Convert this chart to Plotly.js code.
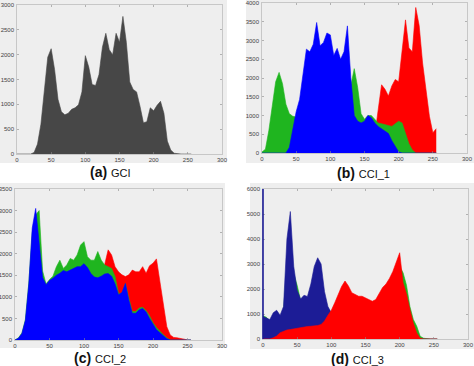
<!DOCTYPE html>
<html>
<head>
<meta charset="utf-8">
<script src="https://cdn.plot.ly/plotly-3.0.1.min.js"></script>
<style>html,body{margin:0;padding:0;background:#fff;}#chart{width:474px;height:366px;}</style>
</head>
<body>
<div id="chart"></div>
<script>
// intensity levels (bin centres)
var levels = [0,5,10,15,20,25,30,35,40,45,50,55,60,65,70,75,80,85,90,95,100,105,110,115,120,125,130,135,140,145,150,155,160,165,170,175,180,185,190,195,200,205,210,215,220,225,230,235,240,245,250,255];

// (a) GCI
var gciGray = [0,0,0,0,0,30,200,600,1300,1950,2120,1700,1100,850,790,820,900,930,990,1250,1980,1750,1400,1380,1600,2150,2430,2100,2000,2430,2250,2770,2250,1450,1300,1250,960,630,650,930,870,980,1060,820,260,80,15,0,0,0,0,0];

// (b) CCI_1
var cci1Red   = [0,0,0,0,0,0,0,0,0,0,0,0,0,0,0,0,0,0,0,0,0,0,0,0,0,0,0,0,0,0,0,0,150,450,1150,1820,1700,1520,1790,1960,1900,2680,3550,2800,2700,3880,3400,2400,1610,980,540,650];
var cci1Green = [30,100,600,1250,1900,2150,1850,1300,1050,980,950,940,950,1000,1000,1000,1000,1000,1000,1000,1000,1000,1000,1000,1000,1100,1800,2250,1750,1050,900,1000,1000,900,800,780,760,730,710,780,850,800,540,250,80,0,0,0,0,0,0,0];
var cci1Blue  = [0,0,0,0,0,0,0,0,150,600,1100,1430,2050,2770,2700,2900,3480,2860,2950,3200,3150,2600,2790,2500,2700,3390,2000,1000,850,800,850,1000,940,800,710,650,600,520,330,180,30,0,0,0,0,0,0,0,0,0,0,0];

// (c) CCI_2
var cci2Red   = [0,20,100,300,800,1500,1800,1500,1200,1150,1200,1250,1300,1300,1350,1350,1400,1400,1400,1400,1400,1400,1400,1400,1400,1500,1750,2090,1970,1700,1580,1510,1470,1510,1620,1580,1580,1700,1545,1720,1780,1880,1390,850,310,115,60,50,40,20,0,0];
var cci2Green = [0,50,160,470,1320,2500,2900,3000,1600,1300,1400,1480,1700,1850,1660,1740,1890,1850,1970,2200,2280,1930,1850,1850,2050,1850,1740,1700,1660,1470,1080,1080,1310,970,660,660,740,760,680,560,400,290,200,120,50,0,0,0,0,0,0,0];
var cci2Blue  = [0,40,150,450,1300,2600,3050,2200,1450,1280,1380,1430,1500,1545,1610,1580,1620,1660,1700,1700,1770,1680,1540,1460,1440,1480,1530,1540,1480,1300,1050,1100,1310,920,620,620,700,730,650,500,360,240,170,90,30,0,0,0,0,0,0,0];

// (d) CCI_3
var cci3Green = [930,870,700,900,1000,850,1100,3000,3800,2600,2150,1550,1500,1500,1800,2300,2600,2400,1500,1100,900,800,900,1100,1400,1500,1450,1400,1400,1400,1400,1350,1300,1400,1600,1800,2000,2200,2400,2700,2900,2650,2150,1300,780,510,110,30,0,0,0,0];
var cci3Blue  = [900,850,780,1050,1150,950,1300,4000,5100,2900,1950,1600,1750,1700,2200,2900,3250,3000,1900,1300,1050,640,300,200,100,0,0,0,0,0,0,0,0,0,0,0,0,0,0,0,0,0,0,0,0,0,0,0,0,0,0,0];
var cci3Red   = [0,0,0,50,120,250,320,360,380,410,440,460,480,500,510,520,540,580,720,950,1150,1450,1800,2100,2320,2120,1850,1780,1710,1710,1650,1570,1510,1580,1800,2060,2200,2420,2700,3100,3450,2250,1800,1180,640,240,30,0,0,0,0,0];

var xTicks = [0,50,100,150,200,250,300];
var yTicksA = [0,500,1000,1500,2000,2500,3000];
var yTicksB = [0,500,1000,1500,2000,2500,3000,3500,4000];
var yTicksC = [0,500,1000,1500,2000,2500,3000,3500];
var yTicksD = [0,1000,2000,3000,4000,5000,6000];

var captions = [
  {label: '(a)', name: 'GCI'},
  {label: '(b)', name: 'CCI_1'},
  {label: '(c)', name: 'CCI_2'},
  {label: '(d)', name: 'CCI_3'}
];

var RED = '#ff0000', GREEN = '#1fb51f', BLUE = '#0000ff', NAVY = '#1c1c96', GRAY = '#474747';

function area(y, color, ax) {
  return {x: levels, y: y, type: 'scatter', mode: 'lines', fill: 'tozeroy',
    fillcolor: color, line: {color: color, width: 0.6}, xaxis: 'x' + ax, yaxis: 'y' + ax,
    hoverinfo: 'skip', showlegend: false};
}

var traces = [
  area(gciGray, GRAY, ''),
  area(cci1Red, RED, '2'), area(cci1Green, GREEN, '2'), area(cci1Blue, BLUE, '2'),
  area(cci2Red, RED, '3'), area(cci2Green, GREEN, '3'), area(cci2Blue, BLUE, '3'),
  area(cci3Green, GREEN, '4'), area(cci3Blue, NAVY, '4'), area(cci3Red, RED, '4')
];

var tickFont = {family: 'Liberation Sans, Arial, sans-serif', size: 6, color: '#444'};
function xa(dom, anchor) {
  return {domain: dom, anchor: anchor, range: [0, 300], tickvals: xTicks, ticktext: xTicks.map(String),
    showgrid: false, zeroline: false, showline: true, linecolor: '#bdbdbd', linewidth: 0.8, mirror: 'ticks',
    ticks: 'inside', ticklen: 2, tickcolor: '#888', tickwidth: 0.6, tickfont: tickFont, fixedrange: true};
}
function ya(dom, anchor, max, vals) {
  return {domain: dom, anchor: anchor, range: [0, max], tickvals: vals, ticktext: vals.map(String),
    showgrid: false, zeroline: false, showline: true, linecolor: '#bdbdbd', linewidth: 0.8, mirror: 'ticks',
    ticks: 'inside', ticklen: 2, tickcolor: '#888', tickwidth: 0.6, tickfont: tickFont, ticklabelstandoff: 1, fixedrange: true};
}

var W = 474, H = 366;
function px(v) { return v / W; }
function py(v) { return 1 - v / H; }

var bgColor = '#eeeeee';
var shapes = [
  {type: 'rect', xref: 'paper', yref: 'paper', x0: px(0), x1: px(227), y0: py(163), y1: py(0), fillcolor: bgColor, line: {width: 0}, layer: 'below'},
  {type: 'rect', xref: 'paper', yref: 'paper', x0: px(246), x1: px(474), y0: py(163), y1: py(0), fillcolor: bgColor, line: {width: 0}, layer: 'below'},
  {type: 'rect', xref: 'paper', yref: 'paper', x0: px(0), x1: px(225), y0: py(348), y1: py(183), fillcolor: bgColor, line: {width: 0}, layer: 'below'},
  {type: 'rect', xref: 'paper', yref: 'paper', x0: px(250), x1: px(474), y0: py(349), y1: py(183), fillcolor: bgColor, line: {width: 0}, layer: 'below'},
  {type: 'line', xref: 'x4 domain', yref: 'y4 domain', x0: 0, x1: 0, y0: 0, y1: 1, line: {color: NAVY, width: 1.6}, layer: 'above'}
];

var capPos = [[110, 172], [363, 173], [100, 358], [357, 359]];
var annotations = captions.map(function (c, i) {
  return {xref: 'paper', yref: 'paper', x: px(capPos[i][0]), y: py(capPos[i][1]), xanchor: 'center', yanchor: 'middle',
    showarrow: false, text: '<b>' + c.label + '</b> <span style="font-size:11px">' + c.name + '</span>',
    font: {family: 'Liberation Sans, Arial, sans-serif', size: 14, color: '#111'}};
});

var layout = {
  width: W, height: H, margin: {l: 0, r: 0, t: 0, b: 0},
  paper_bgcolor: '#ffffff', plot_bgcolor: '#ffffff', showlegend: false,
  xaxis:  xa([px(17), px(222)], 'y'),
  yaxis:  ya([py(154), py(5)], 'x', 3000, yTicksA),
  xaxis2: xa([px(262), px(467)], 'y2'),
  yaxis2: ya([py(153), py(3)], 'x2', 4000, yTicksB),
  xaxis3: xa([px(15), px(222)], 'y3'),
  yaxis3: ya([py(340), py(189)], 'x3', 3500, yTicksC),
  xaxis4: xa([px(263), px(468)], 'y4'),
  yaxis4: ya([py(339), py(189)], 'x4', 6000, yTicksD),
  shapes: shapes, annotations: annotations
};

Plotly.newPlot('chart', traces, layout, {staticPlot: true, displayModeBar: false});
</script>
</body>
</html>
